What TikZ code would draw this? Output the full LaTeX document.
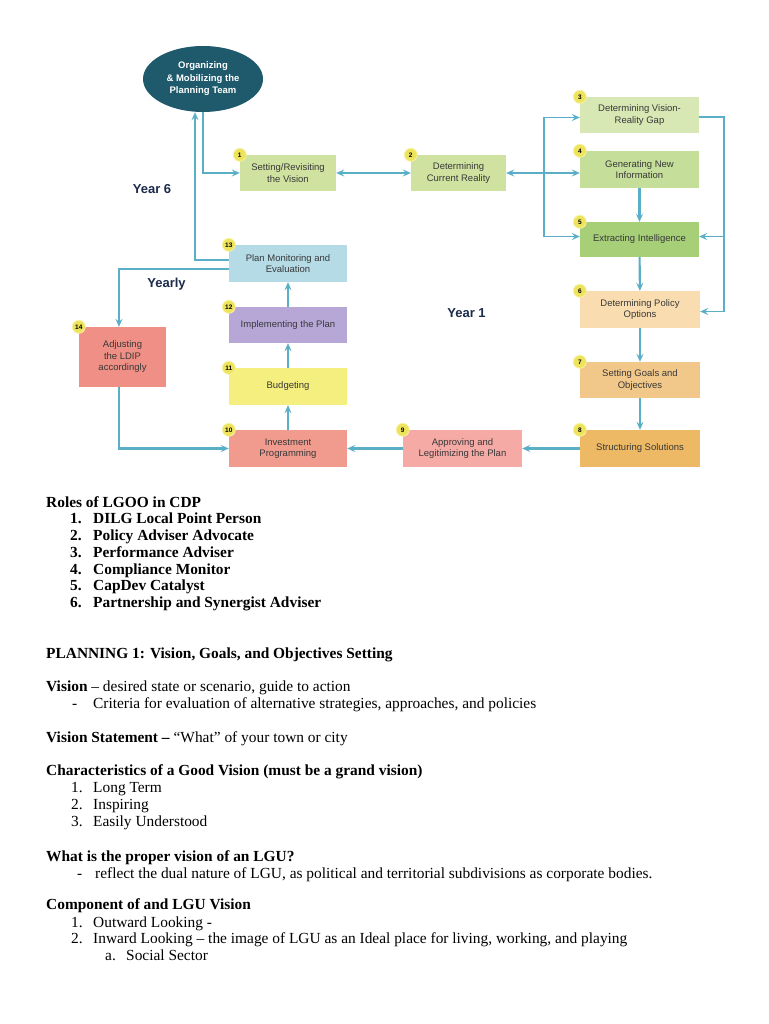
\documentclass[tikz,border=0pt]{standalone}
\usepackage{fontspec}
\setmainfont{Liberation Serif}
\newfontfamily\diagfont{Liberation Sans}
\usetikzlibrary{arrows.meta,shapes.geometric}
\definecolor{arrc}{HTML}{5AAEC6}
\definecolor{ellc}{HTML}{1F5A6C}
\definecolor{navy}{HTML}{1C2B4B}
\definecolor{btxt}{HTML}{383838}
\definecolor{cA}{HTML}{CFE2A0}
\definecolor{cB}{HTML}{D8E8B5}
\definecolor{cC}{HTML}{C5DE9A}
\definecolor{cD}{HTML}{A6CF78}
\definecolor{cE}{HTML}{F9DDB0}
\definecolor{cF}{HTML}{F2C88A}
\definecolor{cG}{HTML}{EDB965}
\definecolor{cH}{HTML}{F5AAA6}
\definecolor{cI}{HTML}{F19B8F}
\definecolor{cJ}{HTML}{F4EF7E}
\definecolor{cK}{HTML}{B6A7D6}
\definecolor{cL}{HTML}{B4DBE6}
\definecolor{cM}{HTML}{EF8F85}
\definecolor{badge}{HTML}{EEE45C}
\definecolor{badgeo}{HTML}{F7F2A8}
\begin{document}
\begin{tikzpicture}[x=1pt,y=-1pt,
  box/.style={rectangle,inner sep=1pt,align=center,text=btxt,
    font=\diagfont\fontsize{9.5}{11.5}\selectfont},
  tip/.tip={Stealth[length=8pt,width=7pt,inset=3pt]},
  arr/.style={draw=arrc,line width=2.1pt,-tip},
  arrboth/.style={draw=arrc,line width=2.3pt,tip-tip},
  badgestyle/.style={circle,fill=badge,draw=badgeo,line width=0.8pt,inner sep=0pt,minimum size=13pt,
    font=\diagfont\bfseries\fontsize{6.5}{6.5}\selectfont},
  yearlbl/.style={font=\diagfont\bfseries\fontsize{13}{13}\selectfont,text=navy},
  body/.style={anchor=base west,inner sep=0pt,font=\fontsize{15.4}{18}\selectfont}]
\useasboundingbox (0,0) rectangle (768,1024);
\fill[white] (0,0) rectangle (768,1024);

% ellipse
\node[ellipse,fill=ellc,minimum width=120pt,minimum height=66pt,inner sep=0pt,align=center,text=white,
  font=\diagfont\bfseries\fontsize{9.5}{12.5}\selectfont] (ell) at (203,79) {Organizing\\\& Mobilizing the\\Planning Team};

% boxes
\node[box,fill=cA,minimum width=96pt,minimum height=36pt] (b1) at (288,173) {Setting/Revisiting\\the Vision};
\node[box,fill=cA,minimum width=95pt,minimum height=36pt] (b2) at (458.5,173) {Determining\\Current Reality};
\node[box,fill=cB,minimum width=119pt,minimum height=36pt] (b3) at (639.5,115) {Determining Vision-\\Reality Gap};
\node[box,fill=cC,minimum width=119pt,minimum height=37pt] (b4) at (639.5,169.5) {Generating New\\Information};
\node[box,fill=cD,minimum width=119pt,minimum height=35pt] (b5) at (639.5,239.5) {Extracting Intelligence};
\node[box,fill=cE,minimum width=120pt,minimum height=37pt] (b6) at (640,309.5) {Determining Policy\\Options};
\node[box,fill=cF,minimum width=120pt,minimum height=36pt] (b7) at (640,380) {Setting Goals and\\Objectives};
\node[box,fill=cG,minimum width=120pt,minimum height=37pt] (b8) at (640,448.5) {Structuring Solutions};
\node[box,fill=cH,minimum width=119pt,minimum height=37pt] (b9) at (462.5,448.5) {Approving and\\Legitimizing the Plan};
\node[box,fill=cI,minimum width=118pt,minimum height=37pt] (b10) at (288,448.5) {Investment\\Programming};
\node[box,fill=cJ,minimum width=118pt,minimum height=37pt] (b11) at (288,386.5) {Budgeting};
\node[box,fill=cK,minimum width=118pt,minimum height=36pt] (b12) at (288,325) {Implementing the Plan};
\node[box,fill=cL,minimum width=118pt,minimum height=37pt] (b13) at (288,263.5) {Plan Monitoring and\\Evaluation};
\node[box,fill=cM,minimum width=87pt,minimum height=60pt] (b14) at (122.5,357) {Adjusting\\the LDIP\\accordingly};

% badges
\foreach \n in {1,...,14} {\node[badgestyle] (bd\n) at (b\n.north west) {\n};}

% year labels
\node[yearlbl] (y6) at (152,189) {Year 6};
\node[yearlbl] (yy) at (166.5,284) {Yearly};
\node[yearlbl] (y1) at (466.5,313) {Year 1};

% connectors
\coordinate (br) at (544,173);
\coordinate (rx) at (724,0);
\draw[arr] (ell.south) |- (b1.west);
\draw[arr] ([yshift=3.5pt]b13.west) -| ([xshift=-8pt]ell.south);
\draw[arr] ([yshift=-5.5pt]b13.west) -| ([xshift=-3.5pt]b14.north);
\draw[arr] ([xshift=-3.5pt]b14.south) |- (b10.west);
\draw[arr] (b10) -- (b11);
\draw[arr] (b11) -- (b12);
\draw[arr] (b12) -- (b13);
\draw[arr] (b9) -- (b10);
\draw[arr] (b8) -- (b9);
\draw[arr] (b7) -- (b8);
\draw[arr] (b6) -- (b7);
\draw[arr] (b5) -- (b6);
\draw[arr] (b4) -- (b5);
\draw[arrboth] (b1) -- (b2);
\draw[arrboth] (b2.east) -- (b2.east -| b4.west);
\draw[arr,line width=1.7pt] (br) |- ([yshift=-2.5pt]b3.west);
\draw[arr,line width=1.7pt] (br) |- ([yshift=3pt]b5.west);
\draw[arr,line width=1.7pt] ([yshift=-2pt]b3.east) -| ([yshift=-2pt]b6.east -| rx) -- ([yshift=-2pt]b6.east);
\draw[arr,line width=1.7pt] ([yshift=3pt]b5.east -| rx) -- ([yshift=3pt]b5.east);

% body text
\node[body] (t1) at (46,507) {\bfseries Roles of LGOO in CDP};
\node[body] (t2) at (70,523.8) {\bfseries\makebox[23pt][l]{1.}DILG Local Point Person};
\node[body] (t3) at (70,540.6) {\bfseries\makebox[23pt][l]{2.}Policy Adviser Advocate};
\node[body] (t4) at (70,557.3) {\bfseries\makebox[23pt][l]{3.}Performance Adviser};
\node[body] (t5) at (70,574.1) {\bfseries\makebox[23pt][l]{4.}Compliance Monitor};
\node[body] (t6) at (70,590.9) {\bfseries\makebox[23pt][l]{5.}CapDev Catalyst};
\node[body] (t7) at (70,607.7) {\bfseries\makebox[23pt][l]{6.}Partnership and Synergist Adviser};
\node[body] (t8) at (46,658) {\bfseries PLANNING 1: Vision, Goals, and Objectives Setting};
\node[body] (t9) at (46,691) {\textbf{Vision} – desired state or scenario, guide to action};
\node[body] (t10) at (72,708) {\makebox[21pt][l]{-}Criteria for evaluation of alternative strategies, approaches, and policies};
\node[body] (t11) at (46,742) {\textbf{Vision Statement –} “What” of your town or city};
\node[body] (t12) at (46,775) {\bfseries Characteristics of a Good Vision (must be a grand vision)};
\node[body] (t13) at (71,792) {\makebox[22pt][l]{1.}Long Term};
\node[body] (t14) at (71,809) {\makebox[22pt][l]{2.}Inspiring};
\node[body] (t15) at (71,826) {\makebox[22pt][l]{3.}Easily Understood};
\node[body] (t16) at (46,861) {\bfseries What is the proper vision of an LGU?};
\node[body] (t17) at (77,878) {\makebox[18pt][l]{-}reflect the dual nature of LGU, as political and territorial subdivisions as corporate bodies.};
\node[body] (t18) at (46,909) {\bfseries Component of and LGU Vision};
\node[body] (t19) at (71,927) {\makebox[22pt][l]{1.}Outward Looking -};
\node[body] (t20) at (71,943.5) {\makebox[22pt][l]{2.}Inward Looking – the image of LGU as an Ideal place for living, working, and playing};
\node[body] (t21) at (105,960) {\makebox[21pt][l]{a.}Social Sector};
\end{tikzpicture}
\end{document}
